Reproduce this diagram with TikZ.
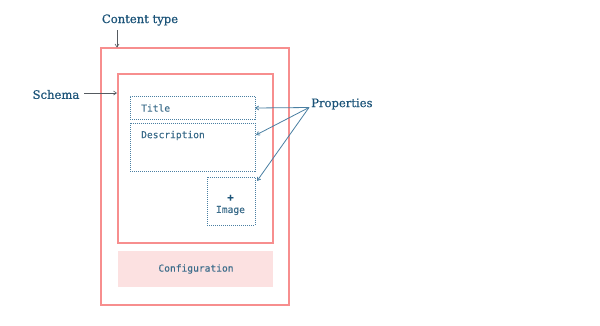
\documentclass[tikz,border=0pt]{standalone}
\usepackage{fontspec}
\setmainfont{DejaVu Serif}
\newfontfamily\serlab[FakeBold=0.6]{DejaVu Serif}
\newfontfamily\monof[FakeBold=0.2]{DejaVu Sans Mono}
\usetikzlibrary{arrows.meta,positioning}
\definecolor{pinkline}{HTML}{F78E8E}
\definecolor{pinkfill}{HTML}{FCE1E1}
\definecolor{labelblue}{HTML}{1C5479}
\definecolor{monoblue}{HTML}{3B6C8A}
\definecolor{dotblue}{HTML}{4A7FA2}
\definecolor{arrowgray}{HTML}{555A60}
\tikzset{
  outerbox/.style={draw=pinkline,line width=2.8pt,minimum width=188pt,minimum height=257pt,inner sep=0pt},
  schemabox/.style={draw=pinkline,line width=1.4pt,minimum width=155pt,minimum height=169pt,inner sep=0pt},
  propbox/.style={draw=dotblue,line width=0.9pt,dash pattern=on 1pt off 1pt,inner sep=0pt},
  configbox/.style={fill=pinkfill,minimum width=155pt,minimum height=36pt,inner sep=0pt},
  monotext/.style={text=monoblue,font=\monof\fontsize{9.6}{11}\selectfont,inner sep=0pt},
  serlabel/.style={text=labelblue,font=\serlab\fontsize{11.6}{13}\selectfont,inner sep=0pt},
  grayarrow/.style={draw=arrowgray,line width=0.6pt,-{Straight Barb[length=3pt,width=4pt]}},
  bluearrow/.style={draw=dotblue,line width=0.8pt,-{Straight Barb[length=3pt,width=4pt]}}
}
\begin{document}
\begin{tikzpicture}[x=1pt,y=-1pt]
\useasboundingbox (0,0) rectangle (600,325);
\node[outerbox] (outer) at (195,176.5) {};
\node[schemabox] (schema) at (195.5,158.5) {};
\node[configbox] (config) at (195.5,269) {};
\node[monotext] (configtext) at (196,269) {Configuration};
\node[propbox,minimum width=125pt,minimum height=23pt] (title) at (192.5,107.5) {};
\node[propbox,minimum width=125pt,minimum height=48pt] (desc) at (192.5,147) {};
\node[propbox,minimum width=48pt,minimum height=48pt] (image) at (231,201) {};
\node[monotext,anchor=west] (titletext) at (141,108) {Title};
\node[monotext,anchor=west] (desctext) at (141,135.5) {Description};
\node[text=labelblue,font=\monof\bfseries\fontsize{11}{12}\selectfont,inner sep=0pt] (plus) at (230.5,198) {+};
\node[monotext] (imagetext) at (230.5,210.5) {Image};
\node[serlabel] (ctlabel) at (140,20) {Content type};
\node[serlabel] (schemalabel) at (56,94.5) {Schema};
\node[serlabel,anchor=west] (proplabel) at (311,104) {Properties};
\coordinate (ctstart) at (117,30);
\coordinate (ctend) at (117,47.5);
\coordinate (schstart) at (84,93);
\coordinate (schend) at (117,93);
\coordinate (pstart) at (309,107.5);
\coordinate (p1) at (255,108);
\coordinate (p2) at (256,135);
\coordinate (p3) at (257,181);
\draw[grayarrow] (ctstart) -- (ctend);
\draw[grayarrow] (schstart) -- (schend);
\draw[bluearrow] (pstart) -- (p1);
\draw[bluearrow] (pstart) -- (p2);
\draw[bluearrow] (pstart) -- (p3);
\end{tikzpicture}
\end{document}
